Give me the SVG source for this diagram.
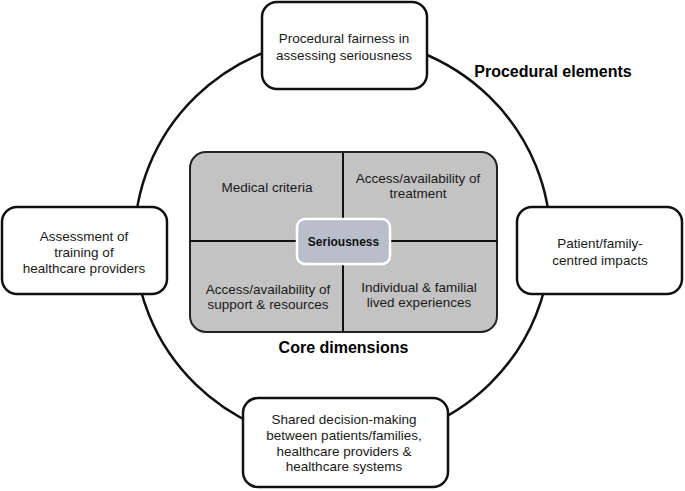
<svg xmlns="http://www.w3.org/2000/svg" width="685" height="491" viewBox="0 0 685 491">
<style>
text{font-family:"Liberation Sans",Arial,sans-serif;fill:#1a1a1a;text-anchor:middle}
.t{font-size:13.5px}
.b{font-weight:bold;font-size:16px;fill:#000}
.box{fill:#fff;stroke:#111;stroke-width:2.5}
.ring{fill:none;stroke:#111;stroke-width:2.5}
.core{fill:#c3c3c3;stroke:#222;stroke-width:2}
.div{stroke:#111;stroke-width:2}
.ser{fill:#b9bfca;stroke:#fff;stroke-width:2.5}
</style>
<g id="connectors">
<ellipse class="ring" cx="342.5" cy="240.5" rx="208" ry="203"/>
</g>
<g id="core">
<rect class="core" x="190" y="152" width="307" height="180" rx="16"/>
<line class="div" x1="343" y1="152" x2="343" y2="332"/>
<line class="div" x1="190" y1="241" x2="497" y2="241"/>
<text class="t" x="267" y="192">Medical criteria</text>
<text class="t" x="418" y="183">Access/availability of</text>
<text class="t" x="418" y="198">treatment</text>
<text class="t" x="268" y="294">Access/availability of</text>
<text class="t" x="268" y="309">support &amp; resources</text>
<text class="t" x="419" y="292">Individual &amp; familial</text>
<text class="t" x="419" y="307">lived experiences</text>
</g>
<g id="seriousness">
<rect class="ser" x="297" y="219" width="93" height="45" rx="8"/>
<text x="343.5" y="245.5" style="font-weight:bold;font-size:12px;fill:#111">Seriousness</text>
</g>
<g id="procedural-fairness">
<rect class="box" x="262" y="2" width="165" height="87" rx="15"/>
<text class="t" x="344" y="43">Procedural fairness in</text>
<text class="t" x="344" y="60">assessing seriousness</text>
</g>
<g id="assessment-training">
<rect class="box" x="2" y="207" width="165" height="87" rx="15"/>
<text class="t" x="84" y="241">Assessment of</text>
<text class="t" x="84" y="257">training of</text>
<text class="t" x="84" y="273">healthcare providers</text>
</g>
<g id="patient-family">
<rect class="box" x="517" y="207" width="165" height="87" rx="15"/>
<text class="t" x="600" y="248">Patient/family-</text>
<text class="t" x="600" y="265">centred impacts</text>
</g>
<g id="shared-decision">
<rect class="box" x="243" y="398" width="205" height="89" rx="15"/>
<text class="t" x="344" y="424">Shared decision-making</text>
<text class="t" x="344" y="440">between patients/families,</text>
<text class="t" x="344" y="456">healthcare providers &amp;</text>
<text class="t" x="344" y="471">healthcare systems</text>
</g>
<g id="labels">
<text class="b" x="553" y="77">Procedural elements</text>
<text class="b" x="343.5" y="353">Core dimensions</text>
</g>
</svg>
